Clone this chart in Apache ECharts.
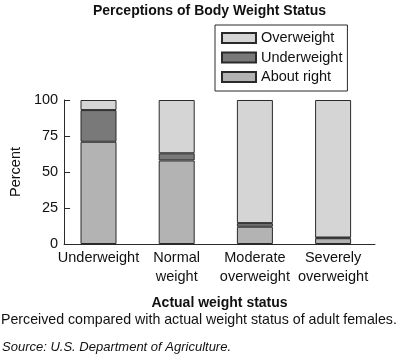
<!DOCTYPE html>
<html>
<head>
<meta charset="utf-8">
<script src="https://cdn.jsdelivr.net/npm/echarts@6/dist/echarts.min.js"></script>
<style>
  html, body { margin: 0; padding: 0; background: #fff; }
  #chart { width: 398px; height: 354px; }
</style>
</head>
<body>
<div id="chart"></div>
<script>
const categories = ['Underweight', 'Normal\nweight', 'Moderate\noverweight', 'Severely\noverweight'];
const aboutRight = [71, 58, 12, 4];
const underweight = [22, 5, 2.5, 0.5];
const overweight = [7, 37, 85.5, 95.5];
const yTicks = [0, 25, 50, 75, 100];

const font = '"Liberation Sans", Arial, sans-serif';
const edge = '#2a2a2a';

const chart = echarts.init(document.getElementById('chart'));

function bar(name, data, color) {
    return {
        name: name,
        type: 'bar',
        stack: 'total',
        xAxisIndex: 1,
        yAxisIndex: 1,
        barWidth: 36,
        data: data,
        itemStyle: { color: color, borderColor: edge, borderWidth: 1 }
    };
}

const option = {
    animation: false,
    textStyle: { fontFamily: font },
    title: [
        {
            text: 'Perceptions of Body Weight Status',
            left: 88, top: -1,
            textStyle: { fontSize: 14, fontWeight: 'bold', color: '#111', fontFamily: font }
        },
        {
            text: 'Perceived compared with actual weight status of adult females.',
            left: -4, top: 308,
            textStyle: { fontSize: 14.2, fontWeight: 'normal', color: '#111', fontFamily: font }
        },
        {
            text: 'Source: U.S. Department of Agriculture.',
            left: -3, top: 336,
            textStyle: { fontSize: 13, fontWeight: 'normal', fontStyle: 'italic', color: '#111', fontFamily: font }
        }
    ],
    legend: {
        orient: 'vertical',
        left: 215, top: 25,
        data: ['Overweight', 'Underweight', 'About right'],
        icon: 'rect',
        itemWidth: 34, itemHeight: 10, itemGap: 1.5,
        padding: [4, 5, 5, 6],
        borderColor: edge, borderWidth: 1,
        textStyle: { fontSize: 14.5, lineHeight: 18, color: '#111', fontFamily: font }
    },
    grid: [
        { left: 48, right: 23, top: 100, bottom: 110 },
        { left: 59.4, right: 25.8, top: 100, bottom: 110 }
    ],
    xAxis: [
        {
            type: 'category', gridIndex: 0, data: categories,
            axisLine: { lineStyle: { color: edge, width: 1 } },
            axisTick: { show: false }, axisLabel: { show: false },
            name: 'Actual weight status', nameLocation: 'middle', nameGap: 52,
            nameTextStyle: { fontSize: 14, fontWeight: 'bold', color: '#111', fontFamily: font }
        },
        {
            type: 'category', gridIndex: 1, data: categories,
            axisLine: { show: false }, axisTick: { show: false },
            axisLabel: { fontSize: 14.5, lineHeight: 19, color: '#111', margin: 4, fontFamily: font, interval: 0 }
        }
    ],
    yAxis: [
        {
            type: 'value', gridIndex: 0, min: 0, max: 100, interval: 25,
            axisLine: { show: true, lineStyle: { color: edge, width: 1 } },
            axisTick: { show: true, inside: true, length: 6, lineStyle: { color: edge } },
            splitLine: { show: false },
            axisLabel: {
                fontSize: 14.5, color: '#111', margin: 6, fontFamily: font,
                formatter: function (v) { return yTicks.indexOf(v) >= 0 ? String(v) : ''; }
            },
            name: 'Percent', nameLocation: 'middle', nameGap: 33, nameRotate: 90,
            nameTextStyle: { fontSize: 14.5, color: '#111', fontFamily: font }
        },
        {
            type: 'value', gridIndex: 1, min: 0, max: 100, show: false
        }
    ],
    series: [
        bar('About right', aboutRight, '#b3b3b3'),
        bar('Underweight', underweight, '#797979'),
        bar('Overweight', overweight, '#d5d5d5')
    ]
};

chart.setOption(option);
</script>
</body>
</html>
